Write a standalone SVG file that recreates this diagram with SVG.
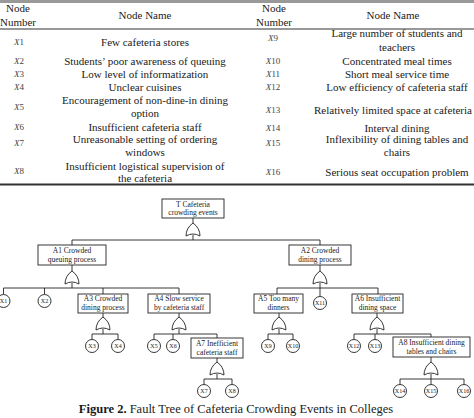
<svg xmlns="http://www.w3.org/2000/svg" width="474" height="418" viewBox="0 0 474 418">
<style>
.t{font-family:"Liberation Serif","Times New Roman",serif;fill:#1a1a1a}
.tb{font-size:11px;text-anchor:middle}
.nm{font-size:9px;text-anchor:middle;fill:#444}
.bx{fill:#fff;stroke:#222;stroke-width:0.9}
.bt{font-size:7.5px;text-anchor:middle}
.ct{font-size:6px;text-anchor:middle}
.ln{stroke:#222;stroke-width:0.9;fill:none}
.g{fill:#fff;stroke:#222;stroke-width:0.9}
</style>
<defs>
<path id="orgate" d="M-7,13 Q-7,5 0,0 Q7,5 7,13 Q0,9 -7,13 Z"/>
</defs>
<rect width="474" height="418" fill="#fff"/>
<g id="table">
<line x1="0" y1="1.5" x2="474" y2="1.5" stroke="#999" stroke-width="3"/>
<line x1="0" y1="29" x2="474" y2="29" stroke="#333" stroke-width="1"/>
<line x1="0" y1="184.5" x2="474" y2="184.5" stroke="#333" stroke-width="2"/>
<g class="t tb">
<text x="18" y="12">Node</text><text x="18" y="26">Number</text>
<text x="145" y="19">Node Name</text>
<text x="274" y="12">Node</text><text x="274" y="26">Number</text>
<text x="393" y="19">Node Name</text>
<text x="145" y="46">Few cafeteria stores</text>
<text x="145" y="65">Students’ poor awareness of queuing</text>
<text x="145" y="78">Low level of informatization</text>
<text x="145" y="91">Unclear cuisines</text>
<text x="145" y="104">Encouragement of non-dine-in dining</text>
<text x="145" y="117">option</text>
<text x="145" y="131">Insufficient cafeteria staff</text>
<text x="145" y="143">Unreasonable setting of ordering</text>
<text x="145" y="156">windows</text>
<text x="145" y="170">Insufficient logistical supervision of</text>
<text x="145" y="182">the cafeteria</text>
<text x="397" y="37">Large number of students and</text>
<text x="397" y="51">teachers</text>
<text x="397" y="65">Concentrated meal times</text>
<text x="397" y="78">Short meal service time</text>
<text x="397" y="91">Low efficiency of cafeteria staff</text>
<text x="393" y="114" textLength="158" lengthAdjust="spacingAndGlyphs">Relatively limited space at cafeteria</text>
<text x="397" y="132">Interval dining</text>
<text x="397" y="143">Inflexibility of dining tables and</text>
<text x="397" y="156">chairs</text>
<text x="397" y="176">Serious seat occupation problem</text>
</g>
<g class="t nm">
<text x="19" y="45"><tspan font-style="italic">X</tspan>1</text>
<text x="19" y="64"><tspan font-style="italic">X</tspan>2</text>
<text x="19" y="77"><tspan font-style="italic">X</tspan>3</text>
<text x="19" y="90"><tspan font-style="italic">X</tspan>4</text>
<text x="19" y="110"><tspan font-style="italic">X</tspan>5</text>
<text x="19" y="130"><tspan font-style="italic">X</tspan>6</text>
<text x="19" y="146"><tspan font-style="italic">X</tspan>7</text>
<text x="19" y="174"><tspan font-style="italic">X</tspan>8</text>
<text x="273" y="41"><tspan font-style="italic">X</tspan>9</text>
<text x="273" y="64"><tspan font-style="italic">X</tspan>10</text>
<text x="273" y="77"><tspan font-style="italic">X</tspan>11</text>
<text x="273" y="90"><tspan font-style="italic">X</tspan>12</text>
<text x="273" y="113"><tspan font-style="italic">X</tspan>13</text>
<text x="273" y="131"><tspan font-style="italic">X</tspan>14</text>
<text x="273" y="146"><tspan font-style="italic">X</tspan>15</text>
<text x="273" y="175"><tspan font-style="italic">X</tspan>16</text>
</g>
</g>
<g id="connectors" class="ln">
<path d="M193,218V223M193,235V240M72,240H320M72,240V245M320,240V245"/>
<path d="M72,265V271M72,283V288M3.5,288H179M3.5,288V294.5M44.5,288V294.5M103,288V294M179,288V294"/>
<path d="M320,265V271M320,283V296.5M277,288H378M277,288V294M378,288V294"/>
<path d="M103,313V317M103,329V334M92,334H118M92,334V339.5M118,334V339.5"/>
<path d="M179,313V317M179,329V334M154,334H217M154,334V339.5M173,334V339.5M217,334V338"/>
<path d="M217,358V362M217,374V379M204,379H232M204,379V384.5M232,379V384.5"/>
<path d="M279,313V317M279,329V334M268,334H293M268,334V339.5M293,334V339.5"/>
<path d="M377,313V317M377,329V334M354,334H431M354,334V339.5M375,334V339.5M431,334V337"/>
<path d="M431,357V362M431,374V379M400,379H464M400,379V384.5M431,379V384.5M464,379V384.5"/>
</g>
<g id="gates" class="g">
<use href="#orgate" x="193" y="223"/>
<use href="#orgate" x="72" y="271"/>
<use href="#orgate" x="320" y="271"/>
<use href="#orgate" x="103" y="317"/>
<use href="#orgate" x="179" y="317"/>
<use href="#orgate" x="279" y="317"/>
<use href="#orgate" x="377" y="317"/>
<use href="#orgate" x="217" y="362"/>
<use href="#orgate" x="431" y="362"/>
</g>
<g id="T"><rect class="bx" x="162" y="199" width="62" height="19"/><text class="t bt" x="193" y="206.5">T Cafeteria</text><text class="t bt" x="193" y="215">crowding events</text></g>
<g id="A1"><rect class="bx" x="38" y="245" width="68" height="20"/><text class="t bt" x="72" y="252.5">A1 Crowded</text><text class="t bt" x="72" y="261.5">queuing process</text></g>
<g id="A2"><rect class="bx" x="289" y="245" width="62" height="20"/><text class="t bt" x="320" y="252.5">A2 Crowded</text><text class="t bt" x="320" y="261.5">dining process</text></g>
<g id="A3"><rect class="bx" x="78" y="294" width="50" height="19"/><text class="t bt" x="103" y="301">A3 Crowded</text><text class="t bt" x="103" y="309.5">dining process</text></g>
<g id="A4"><rect class="bx" x="148" y="294" width="62" height="19"/><text class="t bt" x="179" y="301">A4 Slow service</text><text class="t bt" x="179" y="309.5">by cafeteria staff</text></g>
<g id="A5"><rect class="bx" x="254" y="294" width="49" height="19"/><text class="t bt" x="278.5" y="301">A5 Too many</text><text class="t bt" x="278.5" y="309.5">dinners</text></g>
<g id="A6"><rect class="bx" x="352" y="294" width="51" height="19"/><text class="t bt" x="377.5" y="301">A6 Insufficient</text><text class="t bt" x="377.5" y="309.5">dining space</text></g>
<g id="A7"><rect class="bx" x="191" y="338" width="52" height="20"/><text class="t bt" x="217" y="345.5">A7 Inefficient</text><text class="t bt" x="217" y="354.5">cafeteria staff</text></g>
<g id="A8"><rect class="bx" x="393" y="337" width="77" height="20"/><text class="t bt" x="431.5" y="344.5">A8 Insufficient dining</text><text class="t bt" x="431.5" y="353.5">tables and chairs</text></g>
<g id="X1"><circle class="bx" cx="3.5" cy="301" r="6.5"/><text class="t ct" x="3.5" y="303">X1</text></g>
<g id="X2"><circle class="bx" cx="44.5" cy="301" r="6.5"/><text class="t ct" x="44.5" y="303">X2</text></g>
<g id="X3"><circle class="bx" cx="92" cy="346" r="6.5"/><text class="t ct" x="92" y="348">X3</text></g>
<g id="X4"><circle class="bx" cx="118" cy="346" r="6.5"/><text class="t ct" x="118" y="348">X4</text></g>
<g id="X5"><circle class="bx" cx="154" cy="346" r="6.5"/><text class="t ct" x="154" y="348">X5</text></g>
<g id="X6"><circle class="bx" cx="173" cy="346" r="6.5"/><text class="t ct" x="173" y="348">X6</text></g>
<g id="X7"><circle class="bx" cx="204" cy="391" r="6.5"/><text class="t ct" x="204" y="393">X7</text></g>
<g id="X8"><circle class="bx" cx="232" cy="391" r="6.5"/><text class="t ct" x="232" y="393">X8</text></g>
<g id="X9"><circle class="bx" cx="268" cy="346" r="6.5"/><text class="t ct" x="268" y="348">X9</text></g>
<g id="X10"><circle class="bx" cx="293" cy="346" r="6.5"/><text class="t ct" x="293" y="348">X10</text></g>
<g id="X11"><circle class="bx" cx="320" cy="303" r="6.5"/><text class="t ct" x="320" y="305">X11</text></g>
<g id="X12"><circle class="bx" cx="354" cy="346" r="6.5"/><text class="t ct" x="354" y="348">X12</text></g>
<g id="X13"><circle class="bx" cx="375" cy="346" r="6.5"/><text class="t ct" x="375" y="348">X13</text></g>
<g id="X14"><circle class="bx" cx="400" cy="391" r="6.5"/><text class="t ct" x="400" y="393">X14</text></g>
<g id="X15"><circle class="bx" cx="431" cy="391" r="6.5"/><text class="t ct" x="431" y="393">X15</text></g>
<g id="X16"><circle class="bx" cx="464" cy="391" r="6.5"/><text class="t ct" x="464" y="393">X16</text></g>
<text class="t" x="236" y="413" font-size="12.5" text-anchor="middle"><tspan font-weight="bold">Figure 2.</tspan> Fault Tree of Cafeteria Crowding Events in Colleges</text>
</svg>
